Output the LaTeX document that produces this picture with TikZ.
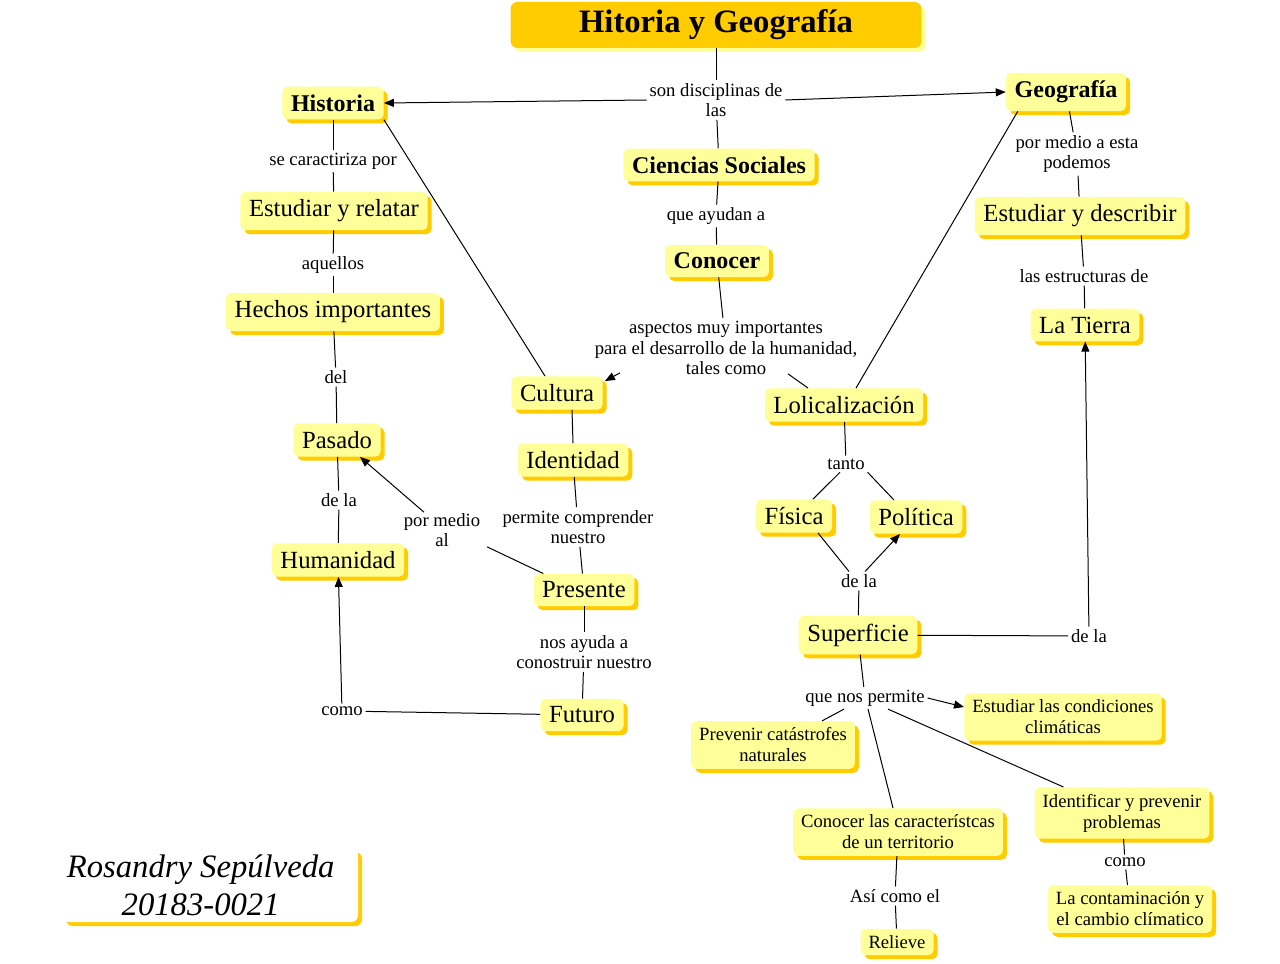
\documentclass[tikz,border=0pt]{standalone}
\usepackage{fontspec}
\setmainfont{Liberation Serif}
\usetikzlibrary{shadows,calc,arrows.meta}
\definecolor{cfill}{RGB}{255,255,153}
\definecolor{cshadow}{RGB}{255,204,0}
\tikzset{
 concept/.style={rounded corners=4pt, fill=cfill, inner xsep=6.5pt, inner ysep=6pt,
   font=\fontsize{18.5}{21}\selectfont,
   drop shadow={shadow xshift=3pt,shadow yshift=-3pt,fill=cshadow,opacity=1}},
 bconcept/.style={concept, font=\fontsize{18}{21}\selectfont\bfseries},
 small/.style={rounded corners=4pt, fill=cfill, inner xsep=6pt, inner ysep=5pt, align=center,
   font=\fontsize{14}{15.75}\selectfont,
   drop shadow={shadow xshift=3pt,shadow yshift=-3pt,fill=cshadow,opacity=1}},
 titlebox/.style={rounded corners=5pt, fill=cshadow, minimum width=308pt, minimum height=34.5pt,
   font=\fontsize{24.5}{28}\selectfont\bfseries,
   drop shadow={shadow xshift=3pt,shadow yshift=-3pt,fill=cfill,opacity=1}},
 authorbox/.style={rounded corners=5pt, fill=white, minimum width=222pt, minimum height=55.5pt,
   align=center, font=\fontsize{24.5}{28.5}\selectfont\itshape,
   drop shadow={shadow xshift=3pt,shadow yshift=-3pt,fill=cshadow,opacity=1}},
 lbl/.style={inner sep=2pt, align=center, font=\fontsize{14}{15.5}\selectfont},
 link/.style={line width=0.75pt},
 arr/.style={link, -{Triangle[length=7.5pt,width=6pt]}},
}
\begin{document}
\begin{tikzpicture}[x=0.75pt,y=-0.75pt]
\fill[white] (0,0) rectangle (1280,963);
\useasboundingbox (0,0) rectangle (1280,963);

% concepts
\node[titlebox] (T) at (716,25) {Hitoria y Geografía};
\node[bconcept] (Hist) at (333,103) {Historia};
\node[bconcept] (Geo) at (1066,92) {Geografía};
\node[bconcept] (CS) at (719,165) {Ciencias Sociales};
\node[bconcept] (Con) at (717,261) {Conocer};
\node[concept] (EyR) at (334,211) {Estudiar y relatar};
\node[concept] (Hech) at (333,312) {Hechos importantes};
\node[concept] (Pas) at (337,440) {Pasado};
\node[concept] (Hum) at (338,560) {Humanidad};
\node[concept] (Cul) at (557,393) {Cultura};
\node[concept] (Iden) at (573,460) {Identidad};
\node[concept] (Pres) at (584,590) {Presente};
\node[concept] (Fut) at (582,715) {Futuro};
\node[concept] (Lol) at (844,405) {Lolicalización};
\node[concept] (Fis) at (794,516) {Física};
\node[concept] (Pol) at (916,517) {Política};
\node[concept] (Sup) at (858,635) {Superficie};
\node[concept] (EyD) at (1080,216) {Estudiar y describir};
\node[concept] (Tie) at (1085,325) {La Tierra};
\node[small] (Cond) at (1063,717) {Estudiar las condiciones\\climáticas};
\node[small] (Prev) at (773,745) {Prevenir catástrofes\\naturales};
\node[small] (Con2) at (898,832) {Conocer las característcas\\de un territorio};
\node[small] (IdP) at (1122,813) {Identificar y prevenir\\problemas};
\node[small] (Cont) at (1130,909) {La contaminación y\\el cambio clímatico};
\node[small] (Rel) at (897,942) {Relieve};
\node[authorbox] (Auth) at (210,885) {Rosandry Sepúlveda\hspace*{14pt}\\20183-0021\hspace*{14pt}};

% linking phrases
\node[lbl] (L1) at (716,100) {son disciplinas de\\las};
\node[lbl] (L2) at (333,161) {se caractiriza por};
\node[lbl] (L3) at (333,265) {aquellos};
\node[lbl] (L4) at (336,377) {del};
\node[lbl] (L5) at (339,500) {de la};
\node[lbl] (L6) at (716,216) {que ayudan a};
\node[lbl] (L7) at (726,348) {aspectos muy importantes\\para el desarrollo de la humanidad,\\tales como};
\node[lbl] (L8) at (578,527) {permite comprender\\nuestro};
\node[lbl] (L9) at (442,530) {por medio\\al};
\node[lbl] (L10) at (584,652) {nos ayuda a\\conostruir nuestro};
\node[lbl] (L11) at (342,711) {como};
\node[lbl] (L12) at (846,464) {tanto};
\node[lbl] (L13) at (859,581) {de la};
\node[lbl] (L14) at (1089,636) {de la};
\node[lbl] (L15) at (1084,276) {las estructuras de};
\node[lbl] (L16) at (1077,154) {por medio a esta\\podemos};
\node[lbl] (L17) at (865,698) {que nos permite};
\node[lbl] (L18) at (1125,862) {como};
\node[lbl] (L19) at (895,896) {Así como el};

% connectors
\draw[link] (T) -- (L1);
\draw[arr] (L1.west) -- (Hist.east);
\draw[arr] (L1.east) -- (Geo.west);
\draw[link] (L1) -- (CS);

\draw[link] (Hist) -- (L2);
\draw[link] (L2) -- (EyR);
\draw[link] (EyR) -- (L3);
\draw[link] (L3) -- (Hech);
\draw[link] (Hech) -- (L4);
\draw[link] (L4) -- (Pas);
\draw[link] (Pas) -- (L5);
\draw[link] (L5) -- (Hum);
\draw[link] (Hist.south east) -- ($(Cul.north)+(-12,0)$);

\draw[link] (CS) -- (L6);
\draw[link] (L6) -- (Con);
\draw[link] (Con) -- (L7);
\draw[arr] ($(L7.south)+(-106,-5)$) -- ($(Cul.north east)+(2,5)$);
\draw[link] ($(L7.south)+(62,-4)$) -- ($(Lol.north)+(-36,0)$);
\draw[link] ($(Geo.south west)+(12,0)$) -- ($(Lol.north)+(12,0)$);

\draw[link] ($(Cul.south)+(15,0)$) -- (Iden.north);
\draw[link] (Iden) -- (L8);
\draw[link] (L8) -- (Pres);
\draw[link] ($(Pres.north west)+(10,0)$) -- ($(L9.south east)+(4,-3)$);
\draw[arr] ($(L9.north)+(-18,2)$) -- ($(Pas.south)+(23,0)$);
\draw[link] (Pres) -- (L10);
\draw[link] (L10) -- (Fut);
\draw[link] (Fut) -- (L11);
\draw[arr] (L11) -- (Hum);

\draw[link] (Lol) -- (L12);
\draw[link] ($(L12.south)+(-6,0)$) -- ($(Fis.north)+(19,0)$);
\draw[link] (L12.south east) -- ($(Pol.north)+(-22,0)$);
\draw[link] ($(Fis.south)+(24,0)$) -- ($(L13.north)+(-10,0)$);
\draw[arr] ($(L13.north)+(6,0)$) -- ($(Pol.south)+(-16,0)$);
\draw[link] (Sup) -- (L13);
\draw[link] (Sup) -- (L14);
\draw[arr] (L14) -- (Tie);

\draw[link] (Geo) -- (L16);
\draw[link] (L16) -- (EyD);
\draw[link] (EyD) -- (L15);
\draw[link] (L15) -- (Tie);

\draw[link] (Sup) -- (L17);
\draw[arr] (L17.east) -- ($(Cond.west)+(0,-10)$);
\draw[link] ($(L17.south)+(-21,0)$) -- ($(Prev.north)+(49,0)$);
\draw[link] ($(L17.south)+(3,0)$) -- ($(Con2.north)+(-5,0)$);
\draw[link] ($(L17.south)+(23,0)$) -- ($(IdP.north west)+(29,0)$);
\draw[link] (IdP) -- (L18);
\draw[link] (L18) -- (Cont);
\draw[link] (Con2) -- (L19);
\draw[link] (L19) -- (Rel);
\end{tikzpicture}
\end{document}
